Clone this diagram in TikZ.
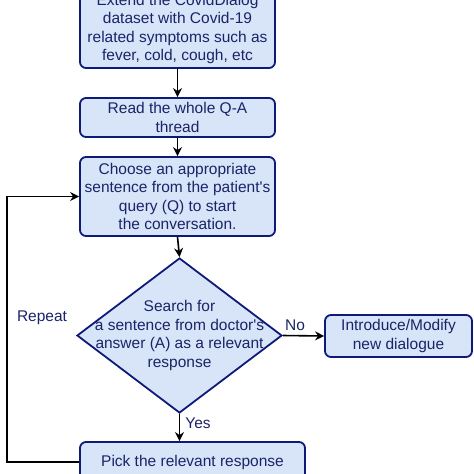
\documentclass[tikz,border=0pt]{standalone}
\usepackage{fontspec}
\setmainfont{Liberation Sans}
\usetikzlibrary{shapes.geometric,arrows.meta}
\definecolor{boxfill}{HTML}{D8E4F8}
\definecolor{boxline}{HTML}{0E1A78}
\definecolor{txt}{HTML}{1A2468}
\tikzset{
  stepbox/.style={draw=boxline, fill=boxfill, line width=1.8pt, rounded corners=6pt,
    inner sep=0pt, align=center, text=txt},
  decbox/.style={draw=boxline, fill=boxfill, line width=1.8pt, shape=diamond,
    inner sep=0pt, minimum width=205pt, minimum height=155pt},
  flow/.style={draw=black, line width=1.6pt, -{Stealth[length=9pt,width=9pt]}},
  lbl/.style={text=txt, inner sep=0pt}
}
\begin{document}
\begin{tikzpicture}[x=1pt,y=-1pt, font=\fontsize{15.5}{18.5}\selectfont]
\useasboundingbox (0,0) rectangle (474,474);
\clip (0,0) rectangle (474,474);
\node[stepbox, minimum width=195pt, minimum height=78pt] (b1) at (177.5,29)
  {Extend the CovidDialog\\dataset with Covid-19\\related symptoms such as\\fever, cold, cough, etc};
\node[stepbox, minimum width=195pt, minimum height=39pt] (b2) at (177.5,117.5)
  {Read the whole Q-A\\thread};
\node[stepbox, minimum width=195pt, minimum height=79pt] (b3) at (177.5,196.5)
  {Choose an appropriate\\sentence from the patient\textquotesingle s\\query (Q) to start\\the conversation.};
\node[decbox] (d) at (179.5,335.5) {};
\node[align=center, text=txt, inner sep=0pt] (dt) at (179.5,335.5)
  {Search for\\a sentence from doctor\textquotesingle s\\answer (A) as a relevant\\response};
\node[stepbox, minimum width=147pt, minimum height=42pt] (b4) at (398.5,336)
  {Introduce/Modify\\new dialogue};
\node[stepbox, minimum width=225pt, minimum height=40pt] (b5) at (192.5,462)
  {Pick the relevant response};
\draw[flow] (b1.south) -- (b2.north);
\draw[flow] (b2.south) -- (b3.north);
\draw[flow] (b3.south) -- (d.north);
\draw[flow] (d.east) -- (b4.west);
\draw[flow] (d.south) -- (b5.north -| d.south);
\coordinate (lp) at (7,462);
\draw[flow] (b5.west) -- (lp) |- (b3.west);
\node[lbl] (no) at (295,325) {No};
\node[lbl] (yes) at (198,423) {Yes};
\node[lbl] (rep) at (42,318) {Repeat};
\end{tikzpicture}
\end{document}
